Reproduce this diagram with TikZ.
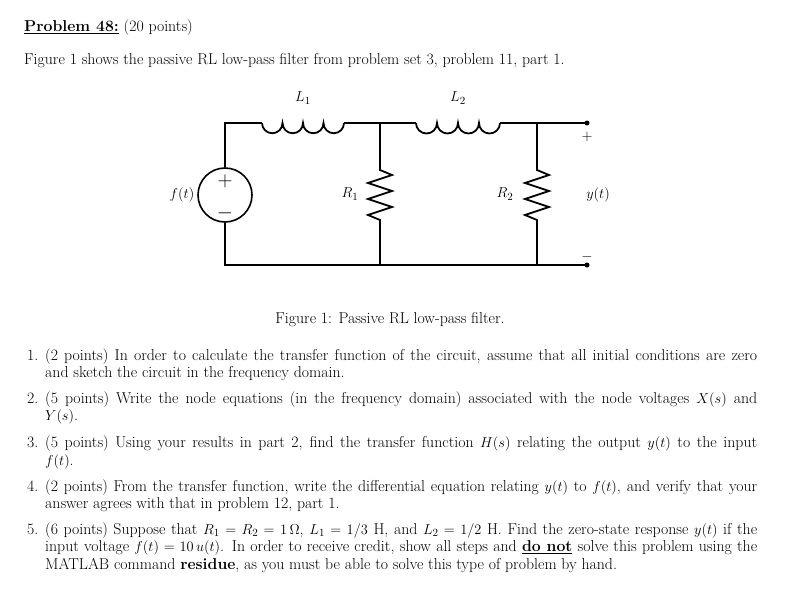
\documentclass[tikz,border=0pt]{standalone}
\usepackage{amsmath}
\begin{document}
\begin{tikzpicture}[x=1pt,y=-1pt,
  txt/.style={anchor=base west,inner sep=0pt,font=\fontsize{15.8}{18}\selectfont},
  wire/.style={line width=1.8pt},
  lbl/.style={font=\fontsize{15}{18}\selectfont\itshape}]
\newcommand{\fl}[1]{\makebox[712pt][s]{#1}}
\useasboundingbox (0,0) rectangle (794,597);
% circuit
\coordinate (tl) at (225,123); \coordinate (bl) at (225,265);
\coordinate (l1a) at (262,123); \coordinate (l1b) at (344,123);
\coordinate (n1) at (380,123); \coordinate (l2a) at (416,123); \coordinate (l2b) at (500,123);
\coordinate (n2) at (537,123); \coordinate (tr) at (587,123);
\coordinate (b1) at (380,265); \coordinate (b2) at (537,265); \coordinate (br) at (587,265);
\node[circle,draw,line width=1.6pt,minimum size=54pt,inner sep=0pt] (src) at (225,195) {};
\draw[wire] (src.north) -- (tl) -- (l1a);
\draw[wire] (l1a) arc (180:0:10.25) arc (180:0:10.25) arc (180:0:10.25) arc (180:0:10.25);
\draw[wire] (l1b) -- (l2a);
\draw[wire] (l2a) arc (180:0:10.5) arc (180:0:10.5) arc (180:0:10.5) arc (180:0:10.5);
\draw[wire] (l2b) -- (tr);
\draw[wire] (src.south) -- (bl) -- (br);
\foreach \x in {380,537}{
 \draw[wire,line join=miter] (\x,123) -- (\x,170) -- (\x+12,175) -- (\x-12,183) -- (\x+12,191) -- (\x-12,199) -- (\x+12,207) -- (\x-12,215) -- (\x,220) -- (\x,265);}
\fill (tr) circle (2.5); \fill (br) circle (2.5);
\node[font=\fontsize{22}{22}\selectfont] (pl) at (225,181) {$+$};
\node[font=\fontsize{22}{22}\selectfont] (mi) at (225,213) {$-$};
\node[font=\fontsize{14}{14}\selectfont] (op) at (587,137) {$+$};
\node[font=\fontsize{14}{14}\selectfont] (om) at (587,257) {$-$};
\node[lbl] (L1) at (303,98) {$L_1$};
\node[lbl] (L2) at (458,98) {$L_2$};
\node[lbl] (R1) at (350,194) {$R_1$};
\node[lbl] (R2) at (505,194) {$R_2$};
\node[lbl] (ft) at (182,195) {$f(t)$};
\node[lbl] (yt) at (598,195) {$y(t)$};
% text
\node[txt] (t0) at (24,31) {\textbf{\underline{Problem 48:}} (20 points)};
\node[txt] (t1) at (24,64) {Figure 1 shows the passive RL low-pass filter from problem set 3, problem 11, part 1.};
\node[txt,anchor=base] (cap) at (390,323) {Figure 1: Passive RL low-pass filter.};
\foreach \n/\y in {1./360,2./403,3./447,4./491,5./534}{\node[txt] at (27,\y) {\n};}
\node[txt] at (45,360) {\fl{(2 points) In order to calculate the transfer function of the circuit, assume that all initial conditions are zero}};
\node[txt] at (45,377) {and sketch the circuit in the frequency domain.};
\node[txt] at (45,403) {\fl{(5 points) Write the node equations (in the frequency domain) associated with the node voltages $X(s)$ and}};
\node[txt] at (45,420) {$Y(s)$.};
\node[txt] at (45,447) {\fl{(5 points) Using your results in part 2, find the transfer function $H(s)$ relating the output $y(t)$ to the input}};
\node[txt] at (45,465) {$f(t)$.};
\node[txt] at (45,491) {\fl{(2 points) From the transfer function, write the differential equation relating $y(t)$ to $f(t)$, and verify that your}};
\node[txt] at (45,508) {answer agrees with that in problem 12, part 1.};
\node[txt] at (45,534) {\fl{(6 points) Suppose that $R_1=R_2=1\,\Omega$, $L_1=1/3$ H, and $L_2=1/2$ H. Find the zero-state response $y(t)$ if the}};
\node[txt] at (45,551) {\fl{input voltage $f(t)=10\,u(t)$. In order to receive credit, show all steps and \textbf{\underline{do not}} solve this problem using the}};
\node[txt] at (45,569) {MATLAB command \textbf{residue}, as you must be able to solve this type of problem by hand.};
\end{tikzpicture}
\end{document}
